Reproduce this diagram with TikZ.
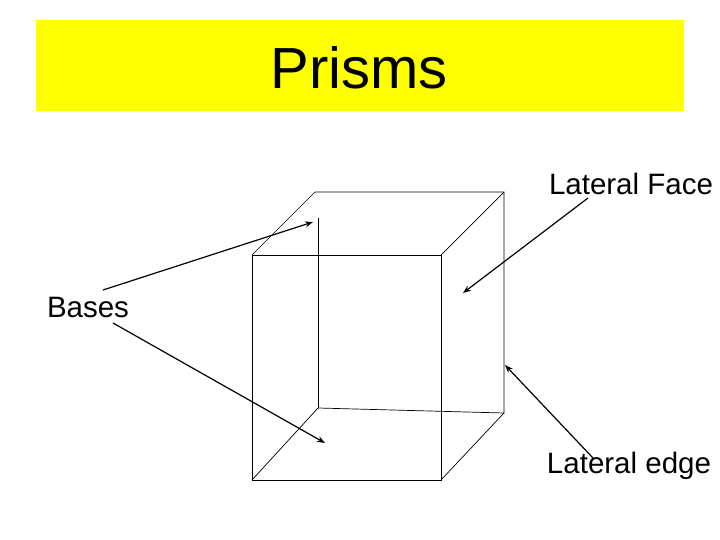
\documentclass[tikz,border=0pt]{standalone}
\usepackage{fontspec}
\setmainfont{Liberation Sans}
\usetikzlibrary{arrows.meta}
\begin{document}
\begin{tikzpicture}[x=1pt,y=-1pt,
  edge/.style={draw=black,line width=0.7pt},
  pointer/.style={draw=black,line width=1.2pt,-{Stealth[length=8pt,width=6pt]}},
  lbl/.style={font=\fontsize{29.5}{34}\selectfont,inner sep=0pt}]
\useasboundingbox (0,0) rectangle (720,540);
\fill[yellow!100] (36,20) rectangle (684,111);
\definecolor{pureyellow}{RGB}{255,255,0}
\fill[pureyellow] (36,20) rectangle (684,111);
\node[font=\fontsize{58}{64}\selectfont] (title) at (359,68) {Prisms};
% cube
\coordinate (A) at (252,255); \coordinate (B) at (441,255);
\coordinate (C) at (441,480); \coordinate (D) at (252,480);
\coordinate (E) at (315,192); \coordinate (F) at (504,192);
\coordinate (G) at (504,413); \coordinate (H) at (318,408);
\draw[edge] (A)--(B)--(C)--(D)--cycle;
\draw[edge] (E)--(F)--(G)--(H);
\draw[edge] (H)--(318,218);
\draw[edge] (A)--(E) (B)--(F) (C)--(G) (D)--(H);
% labels
\node[lbl] (lf) at (631,184) {Lateral Face};
\node[lbl] (bs) at (88,307) {Bases};
\node[lbl] (le) at (629,466) {Lateral edge};
\coordinate (b1) at (103,290); \coordinate (b1e) at (313,222);
\coordinate (b2) at (113,323); \coordinate (b2e) at (325,443);
\coordinate (f1) at (588,198); \coordinate (f1e) at (463,293);
\coordinate (e1) at (593,458); \coordinate (e1e) at (505,365);
\draw[pointer] (b1)--(b1e);
\draw[pointer] (b2)--(b2e);
\draw[pointer] (f1)--(f1e);
\draw[pointer] (e1)--(e1e);
\end{tikzpicture}
\end{document}
